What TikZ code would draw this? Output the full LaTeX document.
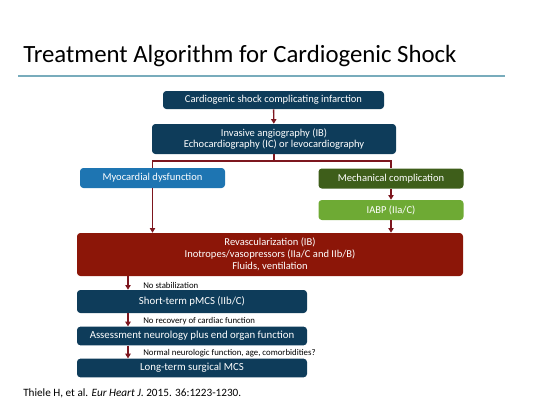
\documentclass[tikz,border=0pt]{standalone}
\usepackage{fontspec}
\setmainfont{Carlito}
\usepackage{tikz}
\usetikzlibrary{arrows.meta,calc,positioning}
\definecolor{navy}{RGB}{14,60,90}
\definecolor{myoblue}{RGB}{30,117,178}
\definecolor{mechgreen}{RGB}{62,94,26}
\definecolor{iabpgreen}{RGB}{110,170,52}
\definecolor{revred}{RGB}{140,22,8}
\definecolor{flow}{RGB}{125,22,30}
\definecolor{rule}{RGB}{120,172,188}

\begin{document}
\begin{tikzpicture}[x=0.75pt, y=-0.75pt,
    box/.style={rounded corners=2.5pt, text=white, inner sep=0pt, align=center,
        font=\fontsize{7.9}{8.9}\selectfont},
    note/.style={anchor=west, inner sep=0pt, font=\fontsize{6.6}{7.5}\selectfont},
    conn/.style={draw=flow, line width=1pt},
    arr/.style={conn, -{Triangle[length=3.5pt,width=4pt]}}]
    \useasboundingbox (0,0) rectangle (540,405);

    % title
    \node[anchor=west, inner sep=0pt, font=\fontsize{18.6}{21}\selectfont] (title) at (23, 56) {Treatment Algorithm for Cardiogenic Shock};
    \draw[rule, line width=0.8pt] (18, 76) -- (505, 76);

    % main column
    \node[box, fill=navy, minimum width=165.75pt, minimum height=13.5pt] (shock) at (273.5, 100) {Cardiogenic shock complicating infarction};
    \node[box, fill=navy, minimum width=183pt, minimum height=22.5pt] (angio) at (274, 139) {Invasive angiography (IB)\\Echocardiography (IC) or levocardiography};
    \node[box, fill=myoblue, minimum width=108.75pt, minimum height=15pt] (myo) at (152.5, 178) {Myocardial dysfunction};
    \node[box, fill=mechgreen, minimum width=108.75pt, minimum height=15pt] (mech) at (391, 178.5) {Mechanical complication};
    \node[box, fill=iabpgreen, minimum width=108.75pt, minimum height=15pt] (iabp) at (391, 210) {IABP (IIa/C)};
    \node[box, fill=revred, minimum width=289.5pt, minimum height=32.25pt] (revasc) at (270, 254.5) {Revascularization (IB)\\Inotropes/vasopressors (IIa/C and IIb/B)\\Fluids, ventilation};
    \node[box, fill=navy, minimum width=172.5pt, minimum height=17.25pt, font=\fontsize{8.1}{9}\selectfont] (pmcs) at (192, 301.5) {Short-term pMCS (IIb/C)};
    \node[box, fill=navy, minimum width=172.5pt, minimum height=14pt, font=\fontsize{8.1}{9}\selectfont] (neuro) at (192, 336) {Assessment neurology plus end organ function};
    \node[box, fill=navy, minimum width=172.5pt, minimum height=14pt, font=\fontsize{8.1}{9}\selectfont] (surgical) at (192, 368) {Long-term surgical MCS};

    % connectors
    \coordinate (split) at (274, 161);
    \coordinate (down) at (128, 0);
    \draw[arr] (shock) -- (angio);
    \draw[conn] (angio.south) -- (split) -| (myo.north);
    \draw[conn] (split) -| (mech.north);
    \draw[arr] (myo.south) -- (myo.south |- revasc.north);
    \draw[arr] (mech) -- (iabp);
    \draw[arr] (iabp.south) -- (iabp.south |- revasc.north);
    \draw[arr] (down |- revasc.south) -- (down |- pmcs.north);
    \draw[arr] (down |- pmcs.south) -- (down |- neuro.north);
    \draw[arr] (down |- neuro.south) -- (down |- surgical.north);

    % branch notes
    \node[note] (nostab) at (143, 285) {No stabilization};
    \node[note] (norecov) at (143, 321.5) {No recovery of cardiac function};
    \node[note] (normal) at (143, 353.5) {Normal neurologic function, age, comorbidities?};

    % reference
    \node[anchor=west, inner sep=0pt, font=\fontsize{8.4}{9.5}\selectfont] (cite) at (23, 393) {Thiele H, et al. \textit{Eur Heart J}. 2015. 36:1223-1230.};
\end{tikzpicture}
\end{document}
